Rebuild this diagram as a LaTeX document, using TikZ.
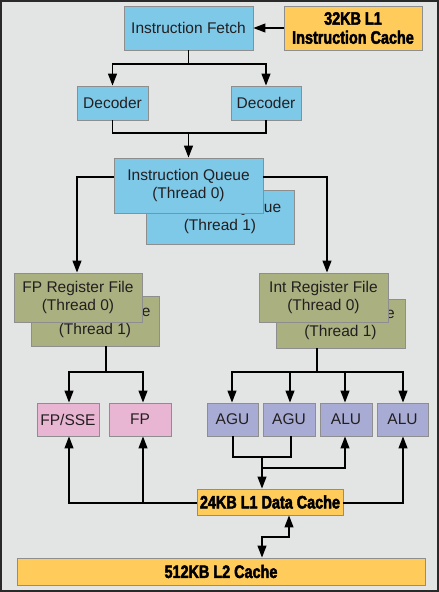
\documentclass[tikz,border=0pt]{standalone}
\usepackage{fontspec}
\setmainfont{Liberation Sans}
\newfontfamily\heavy[FakeStretch=0.8,FakeBold=2.5]{Liberation Sans Bold}
\usetikzlibrary{arrows.meta}
\definecolor{bgc}{HTML}{E3E5E4}
\definecolor{framec}{HTML}{2A2A2A}
\definecolor{bluec}{HTML}{7EC8E8}
\definecolor{olivec}{HTML}{AAB080}
\definecolor{pinkc}{HTML}{E8B6D2}
\definecolor{purplec}{HTML}{A8ACD4}
\definecolor{orangec}{HTML}{FFCC5C}
\definecolor{edgec}{HTML}{8E8E8E}
\definecolor{txtc}{HTML}{231F20}
\tikzset{
  box/.style={draw=edgec, line width=0.9pt, inner sep=0pt, align=center,
    text=txtc, font=\fontsize{15.5}{18}\selectfont},
  blue/.style={box, fill=bluec},
  olive/.style={box, fill=olivec},
  pink/.style={box, fill=pinkc},
  purp/.style={box, fill=purplec},
  cache/.style={box, fill=orangec, font=\heavy\fontsize{18}{19}\selectfont, text=black},
  conn/.style={line width=1.2pt, draw=black},
  arr/.style={conn, -{Triangle[width=9pt,length=12pt]}},
  darr/.style={conn, {Triangle[width=9pt,length=12pt]}-{Triangle[width=9pt,length=12pt]}},
}
\begin{document}
\begin{tikzpicture}[x=1pt,y=-1pt]
\useasboundingbox (0,0) rectangle (439,592);
\draw[fill=bgc, draw=framec, line width=1.6pt] (0.8,0.8) rectangle (438.2,591.2);

% nodes
\node[blue, minimum width=129pt, minimum height=44pt] (fetch) at (188.5,28) {Instruction Fetch};
\node[cache, minimum width=138pt, minimum height=44pt] (icache) at (353,28) {32KB L1\\Instruction Cache};
\node[blue, minimum width=71pt, minimum height=34pt] (dec1) at (112.5,103) {Decoder};
\node[blue, minimum width=70pt, minimum height=34pt] (dec2) at (266,103) {Decoder};

\node[blue, minimum width=148pt, minimum height=54pt] (iq1) at (220,217.5) {Instruction Queue\\(Thread 1)};
\node[blue, minimum width=149pt, minimum height=55pt] (iq0) at (188.5,185.5) {Instruction Queue\\(Thread 0)};

\node[olive, minimum width=128pt, minimum height=50pt] (fp1) at (95,321) {FP Register File\\(Thread 1)};
\node[olive, minimum width=128pt, minimum height=49pt] (fp0) at (78,297.5) {FP Register File\\(Thread 0)};
\node[olive, minimum width=129pt, minimum height=49pt] (int1) at (340.5,323.5) {Int Register File\\(Thread 1)};
\node[olive, minimum width=129pt, minimum height=49pt] (int0) at (323.5,297.5) {Int Register File\\(Thread 0)};

\node[pink, minimum width=62pt, minimum height=33pt] (fpsse) at (68,419.5) {FP/SSE};
\node[pink, minimum width=62pt, minimum height=33pt] (fp) at (140,419.5) {FP};
\node[purp, minimum width=51pt, minimum height=33pt] (agu1) at (232.5,419.5) {AGU};
\node[purp, minimum width=52pt, minimum height=33pt] (agu2) at (289,419.5) {AGU};
\node[purp, minimum width=52pt, minimum height=33pt] (alu1) at (346,419.5) {ALU};
\node[purp, minimum width=51pt, minimum height=33pt] (alu2) at (402.5,419.5) {ALU};

\node[cache, minimum width=146pt, minimum height=26pt] (l1d) at (270,502) {24KB L1 Data Cache};
\node[cache, minimum width=408pt, minimum height=27pt] (l2) at (221,571.5) {512KB L2 Cache};

% helper coordinates
\coordinate (fsplit) at (188.5,64);
\coordinate (dsplit) at (188.5,133);
\coordinate (xfpl) at (77,0);
\coordinate (xintr) at (327,0);
\coordinate (fpsplit) at (106,372);
\coordinate (intsplit) at (317,372);
\coordinate (xfpsse) at (69,0);
\coordinate (xfp) at (143,0);
\coordinate (xagu1) at (232,0);
\coordinate (xagu2) at (290,0);
\coordinate (xalu1) at (345,0);
\coordinate (xalu2) at (403,0);
\coordinate (agujoin) at (262,457);
\coordinate (alujoin) at (261,468);
\coordinate (l1left) at (143,503);
\coordinate (xq) at (289,0);
\coordinate (l2join) at (262,537);

% connectors
\draw[arr] (icache.west) -- (fetch.east);
\draw[conn] (fetch.south) -- (fsplit);
\draw[arr] (fsplit) -| (dec1.north);
\draw[arr] (fsplit) -| (dec2.north);
\draw[conn] (dec1.south) |- (dsplit) -| (dec2.south);
\draw[arr] (dsplit) -- (iq0.north);
\draw[arr] ([yshift=8.5pt]iq0.west) -| (fp0.north -| xfpl);
\draw[arr] ([yshift=8.5pt]iq0.east) -| (int0.north -| xintr);

\draw[conn] (fp1.south -| fpsplit) -- (fpsplit);
\draw[arr] (fpsplit) -| (fpsse.north -| xfpsse);
\draw[arr] (fpsplit) -| (fp.north -| xfp);
\draw[conn] (int1.south -| intsplit) -- (intsplit);
\draw[arr] (intsplit) -| (agu1.north -| xagu1);
\draw[arr] (intsplit) -| (agu2.north -| xagu2);
\draw[arr] (intsplit) -| (alu1.north -| xalu1);
\draw[arr] (intsplit) -| (alu2.north -| xalu2);

\draw[conn] (agu1.south -| 233,0) |- (agujoin) -| (agu2.south -| 291,0);
\draw[arr] (agujoin) -- (l1d.north -| agujoin);
\draw[arr] (alujoin) -| (alu1.south -| xalu1);
\draw[arr] (l1d.west |- 0,503) -| (fpsse.south -| xfpsse);
\draw[arr] (l1left) -- (fp.south -| xfp);
\draw[arr] (l1d.east |- 0,503) -| (alu2.south -| xalu2);
\draw[darr] (l1d.south -| xq) |- (l2join) -- (l2.north -| l2join);
\end{tikzpicture}
\end{document}
